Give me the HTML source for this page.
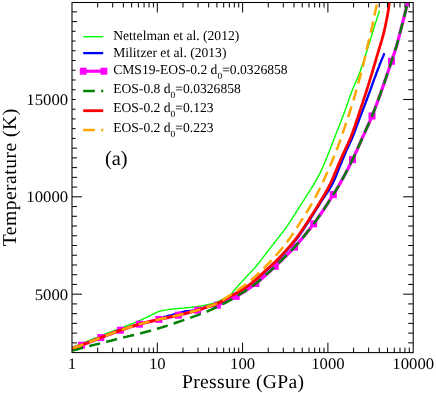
<!DOCTYPE html>
<html><head><meta charset="utf-8"><title>Temperature vs Pressure</title>
<style>html,body{margin:0;padding:0;background:#fff}svg{display:block}text{text-rendering:geometricPrecision}</style></head>
<body>
<svg width="436" height="393" viewBox="0 0 436 393">
<rect width="436" height="393" fill="#fff"/>
<defs><clipPath id="c"><rect x="72.0" y="2.5" width="341.2" height="350.1"/></clipPath></defs>
<g clip-path="url(#c)" fill="none" stroke-linejoin="round">
<path d="M71.9 347.6 L73.3 347.0 L74.7 346.4 L76.0 345.9 L77.4 345.3 L78.8 344.7 L80.2 344.1 L81.6 343.5 L83.0 343.0 L84.4 342.4 L85.7 341.8 L87.1 341.3 L88.5 340.7 L89.9 340.1 L91.3 339.6 L92.7 339.0 L94.1 338.4 L95.5 337.9 L96.9 337.3 L98.3 336.8 L99.6 336.2 L101.0 335.7 L102.4 335.1 L103.8 334.5 L105.2 334.0 L106.6 333.4 L108.0 332.9 L109.4 332.4 L110.8 331.8 L112.2 331.3 L113.6 330.8 L115.0 330.2 L116.4 329.7 L117.8 329.2 L119.2 328.7 L120.6 328.1 L122.0 327.6 L123.4 327.1 L124.8 326.5 L126.2 326.0 L127.6 325.4 L129.0 324.9 L130.4 324.3 L131.8 323.7 L133.2 323.2 L134.6 322.6 L136.0 322.0 L137.3 321.4 L138.7 320.8 L140.1 320.3 L141.5 319.7 L142.8 319.1 L144.2 318.4 L145.6 317.8 L146.9 317.2 L148.3 316.6 L149.6 315.9 L151.0 315.2 L152.3 314.5 L153.7 313.8 L155.0 313.1 L156.4 312.5 L157.7 311.9 L159.1 311.5 L160.6 311.1 L162.0 310.7 L163.5 310.4 L165.0 310.1 L166.5 309.9 L168.0 309.6 L169.4 309.4 L170.9 309.2 L172.4 309.1 L173.9 308.9 L175.4 308.8 L176.9 308.6 L178.4 308.5 L179.9 308.3 L181.4 308.2 L182.9 308.1 L184.4 307.9 L185.9 307.8 L187.4 307.7 L188.9 307.5 L190.3 307.4 L191.8 307.2 L193.3 307.0 L194.8 306.9 L196.3 306.7 L197.8 306.4 L199.3 306.2 L200.7 306.0 L202.2 305.7 L203.7 305.5 L205.2 305.2 L206.7 305.0 L208.1 304.6 L209.6 304.3 L211.0 303.9 L212.5 303.5 L213.9 303.0 L215.3 302.4 L216.7 301.9 L218.1 301.3 L219.5 300.8 L220.8 300.2 L222.2 299.5 L223.6 298.9 L224.9 298.2 L226.2 297.5 L227.5 296.7 L228.7 295.9 L230.0 295.0 L231.1 294.0 L232.1 293.0 L233.1 291.8 L234.1 290.7 L235.0 289.5 L235.9 288.3 L236.9 287.2 L237.9 286.0 L238.9 284.9 L239.9 283.8 L241.0 282.7 L242.0 281.6 L243.0 280.5 L244.0 279.4 L245.0 278.3 L246.0 277.2 L247.1 276.1 L248.1 275.0 L249.1 273.9 L250.1 272.8 L251.2 271.7 L252.2 270.6 L253.2 269.5 L254.2 268.4 L255.2 267.3 L256.2 266.2 L257.1 265.0 L258.1 263.9 L259.0 262.7 L260.0 261.5 L260.9 260.3 L261.8 259.1 L262.7 257.9 L263.6 256.7 L264.5 255.5 L265.4 254.3 L266.3 253.2 L267.2 252.0 L268.2 250.8 L269.1 249.6 L270.0 248.4 L270.9 247.2 L271.8 246.0 L272.8 244.9 L273.7 243.7 L274.6 242.5 L275.5 241.3 L276.4 240.1 L277.4 238.9 L278.3 237.8 L279.2 236.6 L280.1 235.4 L281.1 234.2 L282.0 233.0 L282.9 231.8 L283.8 230.6 L284.7 229.4 L285.6 228.2 L286.5 227.0 L287.3 225.8 L288.2 224.6 L289.0 223.3 L289.8 222.1 L290.6 220.8 L291.4 219.5 L292.3 218.3 L293.1 217.0 L293.9 215.7 L294.7 214.5 L295.5 213.2 L296.3 211.9 L297.1 210.7 L297.9 209.4 L298.7 208.1 L299.5 206.9 L300.3 205.6 L301.1 204.3 L301.9 203.1 L302.7 201.8 L303.5 200.5 L304.3 199.3 L305.1 198.0 L305.9 196.7 L306.7 195.5 L307.5 194.2 L308.4 193.0 L309.2 191.7 L310.0 190.5 L310.8 189.2 L311.7 187.9 L312.4 186.7 L313.2 185.4 L314.0 184.1 L314.7 182.8 L315.5 181.5 L316.2 180.2 L316.9 178.9 L317.7 177.6 L318.4 176.2 L319.1 174.9 L319.8 173.6 L320.4 172.2 L321.1 170.9 L321.7 169.5 L322.4 168.2 L323.0 166.8 L323.6 165.5 L324.2 164.1 L324.7 162.7 L325.3 161.3 L325.9 159.9 L326.4 158.5 L327.0 157.1 L327.5 155.7 L328.1 154.3 L328.6 152.9 L329.2 151.5 L329.7 150.1 L330.3 148.7 L330.8 147.4 L331.4 146.0 L331.9 144.6 L332.4 143.2 L333.0 141.8 L333.5 140.4 L334.1 139.0 L334.6 137.6 L335.1 136.2 L335.7 134.8 L336.2 133.4 L336.8 132.0 L337.3 130.6 L337.9 129.2 L338.4 127.8 L338.9 126.4 L339.5 125.0 L340.0 123.6 L340.6 122.2 L341.1 120.8 L341.6 119.4 L342.2 118.0 L342.7 116.6 L343.3 115.2 L343.8 113.8 L344.3 112.4 L344.8 111.0 L345.4 109.6 L345.9 108.1 L346.4 106.7 L346.9 105.3 L347.4 103.9 L347.9 102.5 L348.4 101.1 L348.8 99.7 L349.3 98.2 L349.8 96.8 L350.3 95.4 L350.9 94.0 L351.4 92.6 L351.9 91.2 L352.5 89.8 L353.0 88.4 L353.6 87.0 L354.2 85.6 L354.8 84.3 L355.4 82.9 L356.0 81.5 L356.6 80.1 L357.2 78.8 L357.7 77.4 L358.3 76.0 L358.9 74.6 L359.4 73.2 L360.0 71.8 L360.5 70.4 L361.0 69.0 L361.5 67.6 L362.0 66.2 L362.4 64.7 L362.9 63.3 L363.4 61.9 L363.9 60.5 L364.3 59.0 L364.8 57.6 L365.2 56.2 L365.7 54.8 L366.1 53.3 L366.6 51.9 L367.0 50.5 L367.5 49.0 L367.9 47.6 L368.4 46.2 L368.8 44.7 L369.2 43.3 L369.7 41.9 L370.1 40.4 L370.6 39.0 L371.0 37.6 L371.5 36.1 L371.9 34.7 L372.3 33.3 L372.8 31.8 L373.2 30.4 L373.7 29.0 L374.1 27.5 L374.5 26.1 L375.0 24.7 L375.4 23.2 L375.9 21.8 L376.4 20.4 L376.8 19.0 L377.3 17.5 L377.7 16.1 L378.2 14.7 L378.7 13.2 L379.1 11.8 L379.6 10.4" stroke="#00ff00" stroke-width="1.4"/>
<path d="M163.1 317.2 L164.6 316.8 L166.0 316.5 L167.5 316.1 L168.9 315.7 L170.4 315.4 L171.8 315.0 L173.3 314.6 L174.7 314.2 L176.1 313.8 L177.6 313.3 L179.0 312.9 L180.5 312.5 L181.9 312.2 L183.4 311.8 L184.8 311.4 L186.3 311.2 L187.8 311.1 L189.3 311.0 L190.8 310.8 L192.3 310.7 L193.8 310.6 L195.3 310.5 L196.8 310.2 L198.2 310.0 L199.7 309.6 L201.1 309.2 L202.5 308.7 L203.9 308.1 L205.3 307.6 L206.8 307.1 L208.2 306.5 L209.6 306.1 L211.0 305.7 L212.5 305.3 L214.0 304.9 L215.4 304.5 L216.8 304.0 L218.2 303.5 L219.6 302.9 L220.9 302.3 L222.2 301.5 L223.5 300.7 L224.8 299.9 L226.1 299.2 L227.4 298.4 L228.7 297.7 L230.0 297.0 L231.3 296.3 L232.7 295.6 L234.0 294.8 L235.3 294.1 L236.6 293.4 L237.9 292.6 L239.2 291.9 L240.5 291.2 L241.8 290.4 L243.1 289.7 L244.4 288.9 L245.7 288.1 L246.9 287.3 L248.1 286.4 L249.3 285.5 L250.5 284.6 L251.7 283.7 L252.8 282.7 L254.0 281.7 L255.1 280.7 L256.3 279.8 L257.4 278.8 L258.5 277.8 L259.7 276.8 L260.8 275.8 L261.9 274.8 L263.0 273.8 L264.1 272.8 L265.2 271.7 L266.3 270.7 L267.4 269.7 L268.5 268.7 L269.6 267.7 L270.8 266.7 L271.9 265.7 L273.0 264.7 L274.1 263.7 L275.2 262.7 L276.3 261.6 L277.3 260.6 L278.4 259.5 L279.5 258.5 L280.5 257.4 L281.5 256.3 L282.6 255.2 L283.6 254.1 L284.6 253.0 L285.6 251.9 L286.7 250.8 L287.7 249.7 L288.6 248.6 L289.6 247.5 L290.6 246.3 L291.6 245.2 L292.6 244.0 L293.5 242.9 L294.5 241.7 L295.4 240.6 L296.4 239.4 L297.3 238.2 L298.2 237.0 L299.1 235.8 L299.9 234.6 L300.8 233.4 L301.6 232.1 L302.5 230.9 L303.3 229.6 L304.1 228.4 L305.0 227.1 L305.8 225.9 L306.6 224.6 L307.4 223.4 L308.3 222.1 L309.1 220.9 L309.9 219.6 L310.7 218.3 L311.5 217.1 L312.3 215.8 L313.1 214.5 L313.9 213.3 L314.7 212.0 L315.5 210.7 L316.3 209.4 L317.1 208.2 L317.9 206.9 L318.7 205.6 L319.4 204.4 L320.2 203.1 L321.0 201.8 L321.8 200.5 L322.7 199.3 L323.5 198.0 L324.3 196.8 L325.2 195.5 L326.0 194.3 L326.9 193.0 L327.7 191.8 L328.6 190.5 L329.4 189.3 L330.1 188.0 L330.9 186.7 L331.6 185.4 L332.3 184.1 L333.0 182.8 L333.6 181.4 L334.3 180.1 L334.9 178.7 L335.5 177.3 L336.0 176.0 L336.6 174.6 L337.1 173.2 L337.7 171.8 L338.3 170.4 L338.8 169.0 L339.4 167.6 L339.9 166.2 L340.5 164.8 L341.1 163.4 L341.7 162.0 L342.2 160.6 L342.8 159.2 L343.4 157.9 L344.0 156.5 L344.5 155.1 L345.1 153.7 L345.7 152.3 L346.3 151.0 L346.9 149.6 L347.5 148.2 L348.2 146.9 L348.8 145.5 L349.4 144.1 L350.1 142.8 L350.7 141.4 L351.3 140.1 L351.9 138.7 L352.5 137.3 L353.1 135.9 L353.6 134.5 L354.2 133.1 L354.7 131.7 L355.2 130.3 L355.7 128.9 L356.2 127.5 L356.7 126.1 L357.2 124.7 L357.8 123.3 L358.3 121.9 L358.8 120.5 L359.3 119.1 L359.9 117.7 L360.4 116.3 L361.0 114.9 L361.5 113.5 L362.0 112.1 L362.6 110.7 L363.1 109.3 L363.7 107.9 L364.2 106.5 L364.7 105.1 L365.3 103.7 L365.8 102.3 L366.3 100.9 L366.8 99.5 L367.4 98.0 L367.9 96.6 L368.4 95.2 L368.9 93.8 L369.5 92.4 L370.0 91.0 L370.5 89.6 L371.0 88.2 L371.5 86.8 L372.0 85.4 L372.5 84.0 L373.0 82.6 L373.5 81.1 L374.0 79.7 L374.5 78.3 L375.1 76.9 L375.6 75.5 L376.1 74.1 L376.6 72.7 L377.2 71.3 L377.7 69.9 L378.2 68.5 L378.8 67.1 L379.3 65.7 L379.9 64.3 L380.4 62.9 L381.0 61.5 L381.5 60.1 L382.1 58.7 L382.7 57.4 L383.3 56.0 L383.8 54.6 L384.4 53.2" stroke="#0000ff" stroke-width="2.3"/>
<path d="M71.9 348.4 L73.3 347.9 L74.7 347.5 L76.2 347.0 L77.6 346.5 L79.0 346.0 L80.4 345.5 L81.8 345.0 L83.2 344.5 L84.6 344.0 L86.0 343.4 L87.4 342.9 L88.8 342.4 L90.2 341.8 L91.6 341.2 L93.0 340.7 L94.4 340.1 L95.8 339.6 L97.2 339.0 L98.6 338.5 L100.0 337.9 L101.3 337.4 L102.7 336.9 L104.1 336.3 L105.5 335.8 L106.9 335.2 L108.3 334.7 L109.7 334.2 L111.1 333.7 L112.5 333.1 L114.0 332.6 L115.4 332.1 L116.8 331.6 L118.2 331.1 L119.6 330.6 L121.0 330.1 L122.4 329.6 L123.8 329.1 L125.3 328.6 L126.7 328.2 L128.1 327.7 L129.5 327.2 L130.9 326.8 L132.4 326.3 L133.8 325.9 L135.2 325.4 L136.7 325.0 L138.1 324.6 L139.5 324.2 L141.0 323.8 L142.4 323.4 L143.9 323.0 L145.3 322.6 L146.8 322.3 L148.2 321.9 L149.7 321.6 L151.1 321.2 L152.6 320.9 L154.1 320.5 L155.5 320.2 L157.0 319.8 L158.4 319.5 L159.9 319.2 L161.4 318.8 L162.8 318.5 L164.3 318.2 L165.8 317.9 L167.2 317.6 L168.7 317.3 L170.2 317.0 L171.6 316.7 L173.1 316.4 L174.6 316.1 L176.0 315.8 L177.5 315.4 L178.9 315.1 L180.4 314.7 L181.8 314.3 L183.3 314.0 L184.7 313.6 L186.2 313.2 L187.6 312.8 L189.1 312.4 L190.5 312.1 L192.0 311.7 L193.4 311.3 L194.9 311.0 L196.3 310.6 L197.8 310.2 L199.2 309.7 L200.6 309.2 L202.0 308.7 L203.4 308.1 L204.8 307.6 L206.3 307.1 L207.7 306.7 L209.1 306.3 L210.6 306.0 L212.1 305.8 L213.6 305.6 L215.1 305.4 L216.5 305.2 L218.0 304.9 L219.4 304.4 L220.8 303.9 L222.2 303.3 L223.5 302.6 L224.9 302.0 L226.2 301.3 L227.6 300.7 L229.0 300.1 L230.3 299.4 L231.7 298.8 L233.0 298.1 L234.3 297.4 L235.7 296.7 L237.0 296.0 L238.3 295.2 L239.6 294.5 L240.9 293.7 L242.1 293.0 L243.4 292.2 L244.7 291.4 L245.9 290.5 L247.2 289.7 L248.4 288.9 L249.7 288.0 L250.9 287.2 L252.1 286.3 L253.3 285.4 L254.5 284.5 L255.7 283.6 L256.9 282.7 L258.0 281.7 L259.2 280.8 L260.3 279.8 L261.5 278.8 L262.6 277.9 L263.7 276.9 L264.9 275.9 L266.0 274.9 L267.1 273.9 L268.2 272.9 L269.3 271.9 L270.4 270.8 L271.5 269.8 L272.6 268.8 L273.7 267.8 L274.8 266.7 L275.8 265.7 L276.9 264.7 L278.0 263.6 L279.1 262.6 L280.2 261.6 L281.3 260.5 L282.3 259.5 L283.4 258.4 L284.5 257.4 L285.6 256.3 L286.6 255.3 L287.7 254.2 L288.7 253.2 L289.8 252.1 L290.8 251.0 L291.9 249.9 L292.9 248.8 L293.9 247.8 L294.9 246.7 L295.9 245.5 L296.9 244.4 L297.9 243.3 L298.9 242.2 L299.9 241.0 L300.8 239.9 L301.8 238.8 L302.8 237.6 L303.7 236.5 L304.7 235.3 L305.6 234.1 L306.6 233.0 L307.5 231.8 L308.5 230.6 L309.4 229.5 L310.3 228.3 L311.2 227.1 L312.1 225.9 L313.0 224.7 L313.9 223.5 L314.8 222.3 L315.7 221.1 L316.6 219.9 L317.4 218.7 L318.3 217.4 L319.1 216.2 L320.0 215.0 L320.8 213.8 L321.7 212.5 L322.5 211.3 L323.4 210.0 L324.2 208.8 L325.0 207.5 L325.8 206.3 L326.7 205.0 L327.5 203.8 L328.3 202.5 L329.1 201.2 L329.9 200.0 L330.7 198.7 L331.5 197.4 L332.3 196.2 L333.1 194.9 L333.9 193.6 L334.7 192.4 L335.5 191.1 L336.3 189.8 L337.0 188.5 L337.8 187.3 L338.6 186.0 L339.3 184.7 L340.1 183.4 L340.8 182.1 L341.5 180.8 L342.2 179.4 L343.0 178.1 L343.7 176.8 L344.4 175.5 L345.1 174.2 L345.8 172.8 L346.5 171.5 L347.2 170.2 L347.9 168.9 L348.6 167.5 L349.2 166.2 L349.9 164.8 L350.6 163.5 L351.2 162.2 L351.9 160.8 L352.6 159.5 L353.2 158.1 L353.8 156.8 L354.5 155.4 L355.1 154.1 L355.7 152.7 L356.4 151.3 L357.0 150.0 L357.6 148.6 L358.2 147.2 L358.8 145.9 L359.4 144.5 L360.0 143.1 L360.6 141.8 L361.2 140.4 L361.8 139.0 L362.4 137.7 L363.0 136.3 L363.7 134.9 L364.3 133.6 L364.9 132.2 L365.5 130.8 L366.1 129.5 L366.8 128.1 L367.4 126.7 L368.0 125.4 L368.6 124.0 L369.2 122.6 L369.8 121.3 L370.4 119.9 L371.0 118.5 L371.5 117.1 L372.1 115.7 L372.7 114.3 L373.2 113.0 L373.8 111.6 L374.3 110.2 L374.9 108.8 L375.4 107.4 L375.9 106.0 L376.5 104.6 L377.0 103.2 L377.5 101.8 L378.0 100.4 L378.5 99.0 L379.0 97.5 L379.6 96.1 L380.1 94.7 L380.6 93.3 L381.1 91.9 L381.6 90.5 L382.1 89.1 L382.6 87.7 L383.1 86.3 L383.6 84.8 L384.1 83.4 L384.5 82.0 L385.0 80.6 L385.5 79.2 L386.0 77.8 L386.5 76.3 L387.0 74.9 L387.4 73.5 L387.9 72.1 L388.4 70.7 L388.9 69.2 L389.3 67.8 L389.8 66.4 L390.3 65.0 L390.7 63.6 L391.2 62.1 L391.7 60.7 L392.2 59.3 L392.6 57.9 L393.1 56.5 L393.6 55.0 L394.1 53.6 L394.6 52.2 L395.0 50.8 L395.5 49.4 L395.9 47.9 L396.4 46.5 L396.8 45.1 L397.2 43.6 L397.6 42.2 L398.0 40.7 L398.3 39.3 L398.7 37.8 L399.1 36.4 L399.5 34.9 L399.8 33.5 L400.2 32.0 L400.6 30.6 L401.0 29.1 L401.3 27.7 L401.7 26.2 L402.1 24.8 L402.5 23.3 L402.8 21.9 L403.2 20.4 L403.6 19.0 L403.9 17.5 L404.3 16.1 L404.7 14.6 L405.1 13.2 L405.4 11.7 L405.8 10.3 L406.1 8.8 L406.5 7.4 L406.9 5.9 L407.2 4.5 L407.6 3.0" stroke="#ff00ff" stroke-width="3.2"/>
<rect x="78.1" y="341.7" width="7" height="7" fill="#ff00ff" stroke="none"/>
<rect x="97.3" y="334.1" width="7" height="7" fill="#ff00ff" stroke="none"/>
<rect x="116.9" y="326.7" width="7" height="7" fill="#ff00ff" stroke="none"/>
<rect x="135.9" y="320.7" width="7" height="7" fill="#ff00ff" stroke="none"/>
<rect x="155.4" y="315.9" width="7" height="7" fill="#ff00ff" stroke="none"/>
<rect x="174.9" y="311.7" width="7" height="7" fill="#ff00ff" stroke="none"/>
<rect x="194.1" y="306.7" width="7" height="7" fill="#ff00ff" stroke="none"/>
<rect x="213.9" y="301.7" width="7" height="7" fill="#ff00ff" stroke="none"/>
<rect x="232.7" y="292.9" width="7" height="7" fill="#ff00ff" stroke="none"/>
<rect x="252.3" y="280.0" width="7" height="7" fill="#ff00ff" stroke="none"/>
<rect x="271.7" y="262.8" width="7" height="7" fill="#ff00ff" stroke="none"/>
<rect x="291.0" y="243.6" width="7" height="7" fill="#ff00ff" stroke="none"/>
<rect x="310.2" y="220.3" width="7" height="7" fill="#ff00ff" stroke="none"/>
<rect x="329.8" y="191.1" width="7" height="7" fill="#ff00ff" stroke="none"/>
<rect x="349.0" y="156.1" width="7" height="7" fill="#ff00ff" stroke="none"/>
<rect x="368.5" y="112.5" width="7" height="7" fill="#ff00ff" stroke="none"/>
<rect x="388.0" y="57.8" width="7" height="7" fill="#ff00ff" stroke="none"/>
<path d="M71.9 350.8 L73.3 350.4 L74.8 350.0 L76.2 349.6 L77.7 349.2 L79.1 348.8 L80.5 348.4 L82.0 348.0 L83.4 347.6 L84.9 347.2 L86.3 346.8 L87.8 346.4 L89.2 346.1 L90.7 345.7 L92.1 345.3 L93.6 345.0 L95.0 344.6 L96.5 344.3 L97.9 343.9 L99.4 343.6 L100.8 343.2 L102.3 342.9 L103.7 342.5 L105.2 342.2 L106.6 341.8 L108.1 341.4 L109.5 341.0 L111.0 340.7 L112.4 340.3 L113.9 339.9 L115.3 339.5 L116.8 339.1 L118.2 338.7 L119.7 338.4 L121.1 338.0 L122.6 337.6 L124.0 337.3 L125.5 336.9 L126.9 336.6 L128.4 336.2 L129.8 335.9 L131.3 335.5 L132.8 335.2 L134.2 334.9 L135.7 334.5 L137.1 334.2 L138.6 333.8 L140.0 333.4 L141.5 333.1 L142.9 332.7 L144.4 332.3 L145.8 331.9 L147.3 331.6 L148.7 331.2 L150.1 330.8 L151.6 330.4 L153.0 330.0 L154.5 329.6 L155.9 329.1 L157.3 328.7 L158.8 328.3 L160.2 327.9 L161.6 327.4 L163.1 327.0 L164.5 326.5 L165.9 326.1 L167.3 325.6 L168.8 325.1 L170.2 324.7 L171.6 324.2 L173.0 323.7 L174.4 323.3 L175.9 322.8 L177.3 322.3 L178.7 321.8 L180.1 321.4 L181.5 320.9 L182.9 320.4 L184.4 319.9 L185.8 319.4 L187.2 318.9 L188.6 318.4 L190.0 317.9 L191.4 317.4 L192.8 316.9 L194.2 316.4 L195.6 315.9 L197.0 315.4 L198.4 314.9 L199.8 314.3 L201.2 313.8 L202.6 313.3 L204.0 312.7 L205.4 312.1 L206.8 311.6 L208.2 311.0 L209.5 310.4 L210.9 309.8 L212.3 309.1 L213.6 308.5 L215.0 307.9 L216.3 307.2 L217.7 306.6 L219.0 305.9 L220.3 305.3 L221.7 304.6 L223.0 303.9 L224.4 303.3 L225.7 302.6 L227.0 301.9 L228.4 301.2 L229.7 300.5 L231.0 299.7 L232.2 298.9 L233.5 298.1 L234.7 297.3 L236.0 296.5 L237.3 295.7 L238.6 295.0 L239.9 294.2 L241.2 293.5 L242.4 292.7 L243.7 291.9 L245.0 291.1 L246.2 290.3 L247.5 289.5 L248.7 288.7 L250.0 287.8 L251.2 286.9 L252.4 286.1 L253.6 285.2 L254.8 284.3 L256.0 283.4 L257.1 282.4 L258.3 281.5 L259.5 280.5 L260.6 279.6 L261.7 278.6 L262.9 277.6 L264.0 276.6 L265.1 275.6 L266.2 274.6 L267.3 273.6 L268.5 272.6 L269.6 271.6 L270.6 270.6 L271.7 269.6 L272.8 268.6 L273.9 267.5 L275.0 266.5 L276.1 265.5 L277.2 264.4 L278.2 263.4 L279.3 262.4 L280.4 261.3 L281.5 260.3 L282.6 259.2 L283.6 258.2 L284.7 257.2 L285.8 256.1 L286.8 255.1 L287.9 254.0 L289.0 252.9 L290.0 251.9 L291.0 250.8 L292.1 249.7 L293.1 248.6 L294.1 247.5 L295.1 246.4 L296.1 245.3 L297.1 244.2 L298.1 243.1 L299.1 242.0 L300.1 240.8 L301.0 239.7 L302.0 238.5 L303.0 237.4 L303.9 236.2 L304.9 235.1 L305.8 233.9 L306.8 232.8 L307.7 231.6 L308.6 230.4 L309.6 229.2 L310.5 228.1 L311.4 226.9 L312.3 225.7 L313.2 224.5 L314.1 223.3 L315.0 222.1 L315.8 220.9 L316.7 219.7 L317.6 218.5 L318.4 217.2 L319.3 216.0 L320.1 214.8 L321.0 213.5 L321.8 212.3 L322.7 211.1 L323.5 209.8 L324.3 208.6 L325.1 207.3 L326.0 206.1 L326.8 204.8 L327.6 203.5 L328.4 202.3 L329.2 201.0 L330.0 199.8 L330.8 198.5 L331.6 197.2 L332.4 196.0 L333.2 194.7 L334.0 193.4 L334.8 192.2 L335.6 190.9 L336.4 189.6 L337.2 188.3 L337.9 187.1 L338.7 185.8 L339.4 184.5 L340.2 183.2 L340.9 181.9 L341.6 180.6 L342.3 179.3 L343.1 177.9 L343.8 176.6 L344.5 175.3 L345.2 174.0 L345.9 172.7 L346.6 171.3 L347.3 170.0 L348.0 168.7 L348.6 167.3 L349.3 166.0 L350.0 164.7 L350.7 163.3 L351.3 162.0 L352.0 160.7 L352.6 159.3 L353.3 158.0 L353.9 156.6 L354.6 155.3 L355.2 153.9 L355.8 152.5 L356.4 151.2 L357.0 149.8 L357.6 148.5 L358.3 147.1 L358.9 145.7 L359.5 144.3 L360.1 143.0 L360.7 141.6 L361.3 140.2 L361.9 138.9 L362.5 137.5 L363.1 136.1 L363.7 134.8 L364.3 133.4 L365.0 132.1 L365.6 130.7 L366.2 129.3 L366.8 128.0 L367.4 126.6 L368.0 125.2 L368.6 123.9 L369.2 122.5 L369.8 121.1 L370.4 119.7 L371.0 118.4 L371.6 117.0 L372.2 115.6 L372.7 114.2 L373.3 112.8 L373.8 111.4 L374.4 110.1 L374.9 108.7 L375.4 107.3 L376.0 105.9 L376.5 104.5 L377.0 103.1 L377.5 101.7 L378.1 100.3 L378.6 98.8 L379.1 97.4 L379.6 96.0 L380.1 94.6 L380.6 93.2 L381.1 91.8 L381.6 90.4 L382.1 89.0 L382.6 87.6 L383.1 86.2 L383.6 84.8 L384.1 83.3 L384.6 81.9 L385.1 80.5 L385.5 79.1 L386.0 77.7 L386.5 76.3 L387.0 74.8 L387.5 73.4 L387.9 72.0 L388.4 70.6 L388.9 69.2 L389.4 67.8 L389.8 66.3 L390.3 64.9 L390.8 63.5 L391.2 62.1 L391.7 60.7 L392.2 59.2 L392.7 57.8 L393.1 56.4 L393.6 55.0 L394.1 53.6 L394.6 52.1 L395.0 50.7 L395.5 49.3 L395.9 47.9 L396.4 46.4 L396.8 45.0 L397.2 43.6 L397.6 42.1 L398.0 40.7 L398.4 39.2 L398.7 37.8 L399.1 36.3 L399.5 34.9 L399.8 33.4 L400.2 32.0 L400.6 30.5 L401.0 29.1 L401.3 27.6 L401.7 26.2 L402.1 24.7 L402.5 23.3 L402.8 21.9 L403.2 20.4 L403.6 19.0 L403.9 17.5 L404.3 16.1 L404.7 14.6 L405.1 13.2 L405.4 11.7 L405.8 10.3 L406.2 8.8 L406.5 7.4 L406.9 5.9 L407.2 4.5 L407.6 3.0" stroke="#008000" stroke-width="2.5" stroke-dasharray="11.3 6.2" stroke-dashoffset="17.11"/>
<path d="M71.9 348.4 L73.3 347.9 L74.7 347.5 L76.2 347.0 L77.6 346.5 L79.0 346.0 L80.4 345.5 L81.8 345.0 L83.2 344.5 L84.6 344.0 L86.0 343.4 L87.4 342.9 L88.8 342.3 L90.2 341.8 L91.6 341.2 L93.0 340.7 L94.4 340.1 L95.8 339.6 L97.2 339.0 L98.6 338.5 L100.0 337.9 L101.4 337.4 L102.8 336.9 L104.2 336.3 L105.6 335.8 L107.0 335.2 L108.4 334.7 L109.8 334.2 L111.2 333.7 L112.6 333.1 L114.0 332.6 L115.4 332.1 L116.8 331.6 L118.2 331.1 L119.6 330.6 L121.0 330.1 L122.4 329.6 L123.8 329.1 L125.3 328.6 L126.7 328.2 L128.1 327.7 L129.5 327.2 L131.0 326.7 L132.4 326.3 L133.8 325.8 L135.3 325.4 L136.7 325.0 L138.1 324.6 L139.6 324.2 L141.0 323.8 L142.4 323.4 L143.9 323.0 L145.3 322.6 L146.8 322.3 L148.3 321.9 L149.7 321.5 L151.2 321.2 L152.6 320.9 L154.1 320.5 L155.5 320.2 L157.0 319.8 L158.5 319.5 L159.9 319.2 L161.4 318.8 L162.9 318.5 L164.3 318.2 L165.8 317.9 L167.3 317.6 L168.7 317.3 L170.2 317.0 L171.7 316.7 L173.1 316.4 L174.6 316.1 L176.0 315.7 L177.5 315.4 L179.0 315.1 L180.4 314.7 L181.9 314.3 L183.3 313.9 L184.8 313.6 L186.2 313.2 L187.7 312.8 L189.1 312.4 L190.6 312.0 L192.0 311.7 L193.5 311.3 L194.9 310.9 L196.4 310.6 L197.8 310.1 L199.2 309.7 L200.7 309.2 L202.1 308.8 L203.5 308.3 L204.9 307.8 L206.3 307.3 L207.7 306.8 L209.2 306.3 L210.6 305.8 L212.0 305.4 L213.5 304.9 L214.9 304.5 L216.3 304.0 L217.7 303.4 L219.0 302.8 L220.3 302.0 L221.6 301.3 L222.9 300.5 L224.2 299.7 L225.5 299.0 L226.8 298.3 L228.1 297.5 L229.4 296.8 L230.7 296.1 L232.1 295.4 L233.4 294.7 L234.7 294.0 L236.0 293.2 L237.3 292.5 L238.6 291.7 L239.9 291.0 L241.2 290.2 L242.5 289.5 L243.8 288.7 L245.0 287.9 L246.3 287.1 L247.5 286.2 L248.7 285.3 L249.9 284.4 L251.0 283.5 L252.2 282.5 L253.3 281.5 L254.5 280.5 L255.6 279.6 L256.8 278.6 L257.9 277.6 L259.0 276.6 L260.1 275.6 L261.2 274.6 L262.3 273.6 L263.4 272.6 L264.5 271.5 L265.6 270.5 L266.7 269.5 L267.8 268.5 L269.0 267.5 L270.1 266.5 L271.2 265.5 L272.3 264.5 L273.4 263.5 L274.5 262.5 L275.6 261.4 L276.6 260.4 L277.7 259.3 L278.8 258.3 L279.8 257.2 L280.8 256.1 L281.9 255.0 L282.9 253.9 L283.9 252.8 L284.9 251.7 L285.9 250.6 L286.9 249.5 L287.9 248.4 L288.9 247.3 L289.9 246.1 L290.9 245.0 L291.8 243.8 L292.8 242.7 L293.8 241.5 L294.7 240.4 L295.6 239.2 L296.5 238.0 L297.4 236.8 L298.3 235.6 L299.2 234.4 L300.0 233.2 L300.9 231.9 L301.7 230.7 L302.5 229.4 L303.4 228.2 L304.2 226.9 L305.0 225.7 L305.9 224.4 L306.7 223.2 L307.5 221.9 L308.3 220.7 L309.1 219.4 L309.9 218.1 L310.8 216.9 L311.6 215.6 L312.4 214.4 L313.2 213.1 L314.0 211.8 L314.8 210.6 L315.6 209.3 L316.4 208.0 L317.2 206.8 L317.9 205.5 L318.7 204.2 L319.5 202.9 L320.3 201.6 L321.0 200.3 L321.8 199.1 L322.6 197.8 L323.3 196.5 L324.1 195.2 L324.8 193.9 L325.6 192.6 L326.3 191.3 L327.1 190.0 L327.8 188.7 L328.5 187.3 L329.2 186.0 L329.9 184.7 L330.5 183.3 L331.2 182.0 L331.8 180.6 L332.4 179.3 L333.0 177.9 L333.6 176.5 L334.1 175.1 L334.7 173.7 L335.3 172.4 L335.9 171.0 L336.5 169.6 L337.0 168.2 L337.6 166.8 L338.2 165.4 L338.7 164.1 L339.3 162.7 L339.9 161.3 L340.5 159.9 L341.1 158.6 L341.7 157.2 L342.3 155.8 L343.0 154.5 L343.6 153.1 L344.2 151.7 L344.9 150.4 L345.5 149.0 L346.1 147.7 L346.7 146.3 L347.3 144.9 L348.0 143.6 L348.6 142.2 L349.2 140.8 L349.8 139.5 L350.4 138.1 L351.0 136.7 L351.5 135.3 L352.1 133.9 L352.6 132.5 L353.1 131.1 L353.6 129.7 L354.1 128.3 L354.6 126.9 L355.1 125.4 L355.5 124.0 L356.0 122.6 L356.5 121.2 L357.0 119.8 L357.5 118.4 L358.0 116.9 L358.4 115.5 L358.9 114.1 L359.4 112.7 L359.8 111.2 L360.3 109.8 L360.8 108.4 L361.2 107.0 L361.7 105.6 L362.2 104.1 L362.7 102.7 L363.1 101.3 L363.6 99.9 L364.1 98.5 L364.5 97.0 L365.0 95.6 L365.5 94.2 L365.9 92.8 L366.4 91.3 L366.8 89.9 L367.3 88.5 L367.7 87.0 L368.2 85.6 L368.6 84.2 L369.1 82.7 L369.5 81.3 L369.9 79.9 L370.4 78.4 L370.8 77.0 L371.2 75.6 L371.7 74.1 L372.1 72.7 L372.5 71.3 L372.9 69.8 L373.4 68.4 L373.8 67.0 L374.2 65.5 L374.6 64.1 L375.1 62.7 L375.5 61.2 L375.9 59.8 L376.3 58.3 L376.7 56.9 L377.2 55.5 L377.6 54.0 L378.0 52.6 L378.5 51.2 L378.9 49.7 L379.3 48.3 L379.7 46.9 L380.2 45.4 L380.6 44.0 L381.0 42.6 L381.5 41.1 L381.9 39.7 L382.3 38.2 L382.7 36.8 L383.1 35.4 L383.5 33.9 L383.9 32.5 L384.2 31.0 L384.5 29.5 L384.9 28.1 L385.2 26.6 L385.5 25.2 L385.8 23.7 L386.1 22.2 L386.4 20.8 L386.7 19.3 L387.0 17.8 L387.3 16.4 L387.5 14.9 L387.8 13.4 L388.0 11.9 L388.3 10.4 L388.5 9.0 L388.7 7.5 L388.9 6.0 L389.1 4.5 L389.3 3.0" stroke="#ff0000" stroke-width="2.8"/>
<path d="M71.9 348.4 L73.3 347.9 L74.8 347.5 L76.2 347.0 L77.6 346.5 L79.0 346.0 L80.4 345.5 L81.8 345.0 L83.2 344.5 L84.6 344.0 L86.0 343.4 L87.4 342.9 L88.8 342.3 L90.2 341.8 L91.6 341.2 L93.0 340.7 L94.4 340.1 L95.8 339.6 L97.2 339.0 L98.6 338.5 L100.0 337.9 L101.4 337.4 L102.8 336.8 L104.2 336.3 L105.6 335.8 L107.0 335.2 L108.4 334.7 L109.8 334.2 L111.2 333.6 L112.6 333.1 L114.0 332.6 L115.4 332.1 L116.8 331.6 L118.2 331.1 L119.7 330.6 L121.1 330.1 L122.5 329.6 L123.9 329.1 L125.3 328.6 L126.8 328.1 L128.2 327.7 L129.6 327.2 L131.0 326.7 L132.5 326.3 L133.9 325.8 L135.3 325.4 L136.8 325.0 L138.2 324.5 L139.6 324.1 L141.1 323.7 L142.5 323.3 L144.0 323.0 L145.4 322.6 L146.9 322.2 L148.4 321.9 L149.8 321.5 L151.3 321.2 L152.7 320.8 L154.2 320.5 L155.7 320.1 L157.1 319.8 L158.6 319.5 L160.0 319.1 L161.5 318.8 L163.0 318.5 L164.4 318.2 L165.9 317.9 L167.4 317.6 L168.8 317.3 L170.3 317.0 L171.8 316.7 L173.3 316.4 L174.7 316.0 L176.2 315.7 L177.6 315.4 L179.1 315.0 L180.6 314.7 L182.0 314.3 L183.5 313.9 L184.9 313.5 L186.4 313.1 L187.8 312.8 L189.3 312.4 L190.7 312.0 L192.2 311.6 L193.6 311.3 L195.1 310.9 L196.5 310.5 L198.0 310.1 L199.4 309.7 L200.8 309.2 L202.2 308.7 L203.7 308.2 L205.1 307.8 L206.5 307.3 L207.9 306.8 L209.3 306.3 L210.8 305.8 L212.2 305.3 L213.6 304.8 L215.0 304.3 L216.4 303.7 L217.8 303.1 L219.1 302.4 L220.3 301.7 L221.6 300.8 L222.8 300.0 L224.1 299.1 L225.3 298.2 L226.6 297.4 L227.8 296.6 L229.1 295.8 L230.4 295.0 L231.6 294.2 L232.9 293.4 L234.2 292.5 L235.4 291.7 L236.7 290.9 L237.9 290.0 L239.1 289.2 L240.3 288.3 L241.6 287.4 L242.8 286.6 L244.0 285.6 L245.1 284.7 L246.3 283.8 L247.5 282.9 L248.7 281.9 L249.8 281.0 L251.0 280.0 L252.1 279.0 L253.3 278.1 L254.4 277.1 L255.5 276.1 L256.6 275.1 L257.7 274.1 L258.8 273.1 L259.9 272.0 L261.0 271.0 L262.1 269.9 L263.2 268.9 L264.2 267.8 L265.3 266.8 L266.3 265.7 L267.4 264.6 L268.4 263.5 L269.5 262.5 L270.5 261.4 L271.5 260.3 L272.5 259.2 L273.6 258.1 L274.6 257.0 L275.6 255.8 L276.6 254.7 L277.5 253.6 L278.5 252.5 L279.5 251.3 L280.5 250.2 L281.4 249.0 L282.4 247.9 L283.3 246.7 L284.3 245.5 L285.2 244.4 L286.1 243.2 L287.0 242.0 L288.0 240.8 L288.8 239.6 L289.7 238.4 L290.6 237.2 L291.5 235.9 L292.3 234.7 L293.1 233.4 L294.0 232.2 L294.8 230.9 L295.6 229.7 L296.4 228.4 L297.2 227.1 L298.0 225.9 L298.8 224.6 L299.6 223.3 L300.4 222.1 L301.2 220.8 L302.1 219.6 L302.9 218.3 L303.7 217.0 L304.5 215.8 L305.3 214.5 L306.1 213.2 L306.9 212.0 L307.7 210.7 L308.5 209.4 L309.2 208.1 L310.0 206.8 L310.7 205.5 L311.5 204.2 L312.2 202.9 L312.9 201.6 L313.7 200.3 L314.4 199.0 L315.1 197.7 L315.8 196.3 L316.5 195.0 L317.2 193.7 L317.9 192.3 L318.6 191.0 L319.2 189.7 L319.9 188.3 L320.6 187.0 L321.2 185.6 L321.9 184.3 L322.5 182.9 L323.1 181.6 L323.8 180.2 L324.4 178.8 L325.0 177.5 L325.6 176.1 L326.2 174.7 L326.9 173.4 L327.5 172.0 L328.1 170.6 L328.7 169.2 L329.3 167.9 L329.8 166.5 L330.4 165.1 L331.0 163.7 L331.6 162.3 L332.2 161.0 L332.7 159.6 L333.3 158.2 L333.9 156.8 L334.5 155.4 L335.0 154.0 L335.6 152.6 L336.2 151.2 L336.7 149.8 L337.2 148.4 L337.8 147.0 L338.3 145.6 L338.8 144.2 L339.3 142.8 L339.9 141.4 L340.3 140.0 L340.8 138.6 L341.3 137.2 L341.8 135.7 L342.3 134.3 L342.8 132.9 L343.2 131.5 L343.7 130.1 L344.2 128.6 L344.7 127.2 L345.2 125.8 L345.6 124.4 L346.1 123.0 L346.6 121.5 L347.1 120.1 L347.6 118.7 L348.0 117.3 L348.5 115.8 L349.0 114.4 L349.4 113.0 L349.9 111.6 L350.3 110.1 L350.8 108.7 L351.3 107.3 L351.7 105.8 L352.2 104.4 L352.6 103.0 L353.0 101.6 L353.5 100.1 L353.9 98.7 L354.3 97.2 L354.8 95.8 L355.2 94.4 L355.6 92.9 L356.0 91.5 L356.4 90.0 L356.8 88.6 L357.2 87.1 L357.6 85.7 L358.0 84.3 L358.4 82.8 L358.8 81.4 L359.2 79.9 L359.6 78.5 L360.0 77.0 L360.4 75.6 L360.8 74.1 L361.1 72.7 L361.5 71.2 L361.9 69.8 L362.3 68.3 L362.7 66.9 L363.1 65.4 L363.4 64.0 L363.8 62.5 L364.1 61.1 L364.5 59.6 L364.8 58.1 L365.2 56.7 L365.5 55.2 L365.8 53.8 L366.2 52.3 L366.5 50.8 L366.8 49.4 L367.1 47.9 L367.5 46.4 L367.8 45.0 L368.1 43.5 L368.5 42.1 L368.8 40.6 L369.2 39.1 L369.5 37.7 L369.9 36.2 L370.2 34.8 L370.6 33.3 L370.9 31.8 L371.3 30.4 L371.6 28.9 L371.9 27.5 L372.3 26.0 L372.6 24.5 L372.9 23.1 L373.2 21.6 L373.5 20.1 L373.8 18.7 L374.1 17.2 L374.4 15.7 L374.7 14.2 L375.0 12.8 L375.3 11.3 L375.7 9.8 L376.0 8.4 L376.3 6.9 L376.7 5.5 L377.0 4.0" stroke="#ffa500" stroke-width="2.5" stroke-dasharray="11.3 6.2" stroke-dashoffset="16.65"/>
</g>
<path d="M97.68 352.6 v-5 M97.68 2.5 v5 M112.70 352.6 v-5 M112.70 2.5 v5 M123.36 352.6 v-5 M123.36 2.5 v5 M131.62 352.6 v-5 M131.62 2.5 v5 M138.38 352.6 v-5 M138.38 2.5 v5 M144.09 352.6 v-5 M144.09 2.5 v5 M149.03 352.6 v-5 M149.03 2.5 v5 M153.40 352.6 v-5 M153.40 2.5 v5 M157.30 352.6 v-10 M157.30 2.5 v10 M182.98 352.6 v-5 M182.98 2.5 v5 M198.00 352.6 v-5 M198.00 2.5 v5 M208.66 352.6 v-5 M208.66 2.5 v5 M216.92 352.6 v-5 M216.92 2.5 v5 M223.68 352.6 v-5 M223.68 2.5 v5 M229.39 352.6 v-5 M229.39 2.5 v5 M234.33 352.6 v-5 M234.33 2.5 v5 M238.70 352.6 v-5 M238.70 2.5 v5 M242.60 352.6 v-10 M242.60 2.5 v10 M268.28 352.6 v-5 M268.28 2.5 v5 M283.30 352.6 v-5 M283.30 2.5 v5 M293.96 352.6 v-5 M293.96 2.5 v5 M302.22 352.6 v-5 M302.22 2.5 v5 M308.98 352.6 v-5 M308.98 2.5 v5 M314.69 352.6 v-5 M314.69 2.5 v5 M319.63 352.6 v-5 M319.63 2.5 v5 M324.00 352.6 v-5 M324.00 2.5 v5 M327.90 352.6 v-10 M327.90 2.5 v10 M353.58 352.6 v-5 M353.58 2.5 v5 M368.60 352.6 v-5 M368.60 2.5 v5 M379.26 352.6 v-5 M379.26 2.5 v5 M387.52 352.6 v-5 M387.52 2.5 v5 M394.28 352.6 v-5 M394.28 2.5 v5 M399.99 352.6 v-5 M399.99 2.5 v5 M404.93 352.6 v-5 M404.93 2.5 v5 M409.30 352.6 v-5 M409.30 2.5 v5 M72.0 342.86 h5 M413.2 342.86 h-5 M72.0 333.13 h5 M413.2 333.13 h-5 M72.0 323.39 h5 M413.2 323.39 h-5 M72.0 313.66 h5 M413.2 313.66 h-5 M72.0 303.92 h5 M413.2 303.92 h-5 M72.0 294.18 h10 M413.2 294.18 h-10 M72.0 284.45 h5 M413.2 284.45 h-5 M72.0 274.71 h5 M413.2 274.71 h-5 M72.0 264.98 h5 M413.2 264.98 h-5 M72.0 255.24 h5 M413.2 255.24 h-5 M72.0 245.50 h5 M413.2 245.50 h-5 M72.0 235.77 h5 M413.2 235.77 h-5 M72.0 226.03 h5 M413.2 226.03 h-5 M72.0 216.29 h5 M413.2 216.29 h-5 M72.0 206.56 h5 M413.2 206.56 h-5 M72.0 196.82 h10 M413.2 196.82 h-10 M72.0 187.09 h5 M413.2 187.09 h-5 M72.0 177.35 h5 M413.2 177.35 h-5 M72.0 167.61 h5 M413.2 167.61 h-5 M72.0 157.88 h5 M413.2 157.88 h-5 M72.0 148.14 h5 M413.2 148.14 h-5 M72.0 138.41 h5 M413.2 138.41 h-5 M72.0 128.67 h5 M413.2 128.67 h-5 M72.0 118.93 h5 M413.2 118.93 h-5 M72.0 109.20 h5 M413.2 109.20 h-5 M72.0 99.46 h10 M413.2 99.46 h-10 M72.0 89.73 h5 M413.2 89.73 h-5 M72.0 79.99 h5 M413.2 79.99 h-5 M72.0 70.25 h5 M413.2 70.25 h-5 M72.0 60.52 h5 M413.2 60.52 h-5 M72.0 50.78 h5 M413.2 50.78 h-5 M72.0 41.04 h5 M413.2 41.04 h-5 M72.0 31.31 h5 M413.2 31.31 h-5 M72.0 21.57 h5 M413.2 21.57 h-5 M72.0 11.84 h5 M413.2 11.84 h-5" stroke="#000" stroke-width="1" fill="none"/>
<rect x="75.6" y="26" width="220" height="117" fill="#fff"/>
<rect x="72.0" y="2.5" width="341.2" height="350.1" fill="none" stroke="#000" stroke-width="1.05"/>
<text x="67.8" y="369.2" font-size="16" textLength="8.4" lengthAdjust="spacingAndGlyphs" font-family="Liberation Serif, Times New Roman, serif">1</text>
<text x="148.9" y="369.2" font-size="16" textLength="16.7" lengthAdjust="spacingAndGlyphs" font-family="Liberation Serif, Times New Roman, serif">10</text>
<text x="230.1" y="369.2" font-size="16" textLength="25.1" lengthAdjust="spacingAndGlyphs" font-family="Liberation Serif, Times New Roman, serif">100</text>
<text x="311.2" y="369.2" font-size="16" textLength="33.4" lengthAdjust="spacingAndGlyphs" font-family="Liberation Serif, Times New Roman, serif">1000</text>
<text x="392.3" y="369.2" font-size="16" textLength="41.8" lengthAdjust="spacingAndGlyphs" font-family="Liberation Serif, Times New Roman, serif">10000</text>
<text x="34.7" y="299.7" font-size="16" textLength="33.4" lengthAdjust="spacingAndGlyphs" font-family="Liberation Serif, Times New Roman, serif">5000</text>
<text x="26.3" y="202.3" font-size="16" textLength="41.8" lengthAdjust="spacingAndGlyphs" font-family="Liberation Serif, Times New Roman, serif">10000</text>
<text x="26.3" y="105.0" font-size="16" textLength="41.8" lengthAdjust="spacingAndGlyphs" font-family="Liberation Serif, Times New Roman, serif">15000</text>
<text x="182" y="388" font-size="19.6" textLength="122" font-family="Liberation Serif, Times New Roman, serif">Pressure (GPa)</text>
<text transform="translate(15.8 246.3) rotate(-90)" font-size="19.6" textLength="137.5" font-family="Liberation Serif, Times New Roman, serif">Temperature (K)</text>
<text x="105.0" y="164.8" font-size="20.4" font-family="Liberation Serif, Times New Roman, serif">(a)</text>
<path d="M83.2 36.7 H103.2" stroke="#00ff00" stroke-width="1.4" fill="none"/>
<text x="113.2" y="40.4" font-size="13.6" font-family="Liberation Serif, Times New Roman, serif">Nettelman et al. (2012)</text>
<path d="M83.2 53.1 H103.2" stroke="#0000ff" stroke-width="2.3" fill="none"/>
<text x="113.2" y="56.6" font-size="13.6" font-family="Liberation Serif, Times New Roman, serif">Militzer et al. (2013)</text>
<path d="M83.2 71.2 H103.2" stroke="#ff00ff" stroke-width="3.2" fill="none"/>
<rect x="79.8" y="67.7" width="6.8" height="7" fill="#ff00ff"/>
<rect x="100.5" y="67.7" width="6.8" height="7" fill="#ff00ff"/>
<text x="113.2" y="73.5" font-size="13.6" font-family="Liberation Serif, Times New Roman, serif">CMS19-EOS-0.2 d<tspan font-size="9.5" dy="5">0</tspan><tspan dy="-5">=0.0326858</tspan></text>
<path d="M83.2 91.0 H103.2" stroke="#008000" stroke-width="2.5" stroke-dasharray="11.6 6.4" fill="none"/>
<text x="113.2" y="92.7" font-size="13.6" font-family="Liberation Serif, Times New Roman, serif">EOS-0.8 d<tspan font-size="9.5" dy="5">0</tspan><tspan dy="-5">=0.0326858</tspan></text>
<path d="M83.2 110.7 H103.2" stroke="#ff0000" stroke-width="2.8" fill="none"/>
<text x="113.2" y="112.3" font-size="13.6" font-family="Liberation Serif, Times New Roman, serif">EOS-0.2 d<tspan font-size="9.5" dy="5">0</tspan><tspan dy="-5">=0.123</tspan></text>
<path d="M83.2 130.1 H103.2" stroke="#ffa500" stroke-width="2.5" stroke-dasharray="11.6 6.4" fill="none"/>
<text x="113.2" y="131.8" font-size="13.6" font-family="Liberation Serif, Times New Roman, serif">EOS-0.2 d<tspan font-size="9.5" dy="5">0</tspan><tspan dy="-5">=0.223</tspan></text>
</svg>
</body></html>
